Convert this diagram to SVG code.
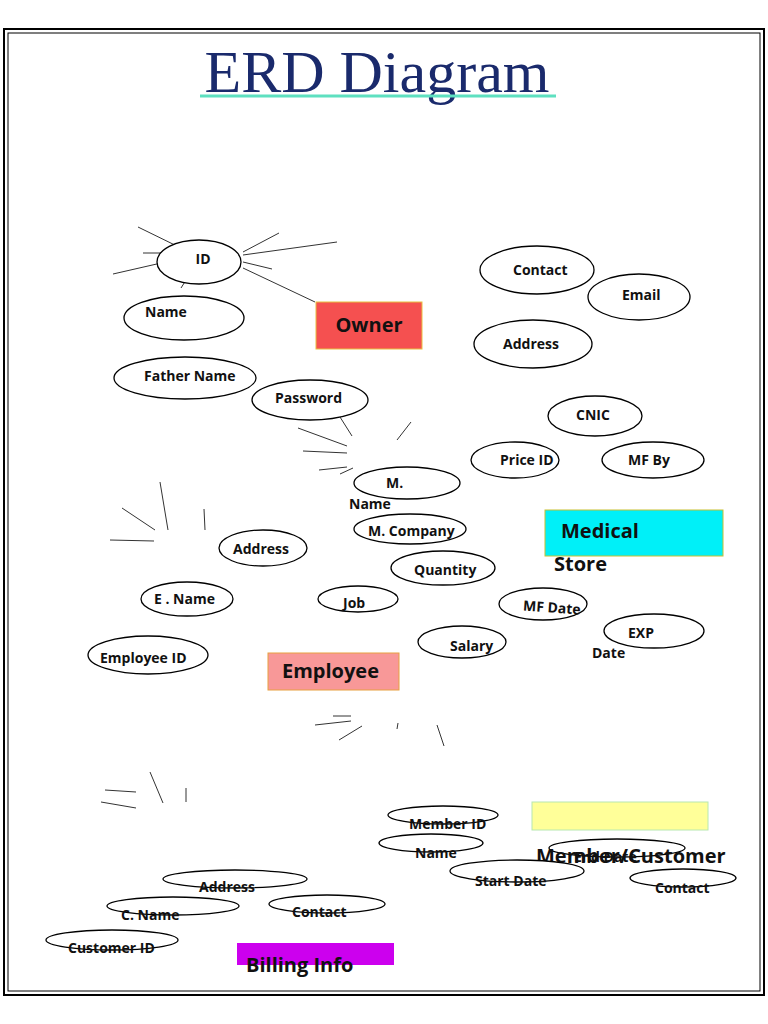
<svg xmlns="http://www.w3.org/2000/svg" width="768" height="1024" viewBox="0 0 768 1024">
<style>
.e{fill:#fff;stroke:#000;stroke-width:1.3}
.t{font-family:"Open Sans","Liberation Sans",sans-serif;font-weight:bold;font-size:14px;fill:#111}
.b{font-family:"Open Sans","Liberation Sans",sans-serif;font-weight:bold;font-size:20px;fill:#111}
.l{stroke:#333;stroke-width:1;fill:none}
</style>
<rect width="768" height="1024" fill="#fff"/>
<rect x="4" y="29" width="760" height="966" fill="none" stroke="#000" stroke-width="2"/>
<rect x="8" y="33" width="752" height="958" fill="none" stroke="#000" stroke-width="1"/>
<text x="377" y="92" text-anchor="middle" font-family="Liberation Serif,serif" font-size="60" fill="#1a2a6c">ERD Diagram</text>
<line x1="200" y1="96" x2="556" y2="96" stroke="#5ee0c0" stroke-width="3"/>
<g id="connectors">
<path class="l" d="M138 227L183 249M143 253L183 253M113 274L183 258M193 269L181 288M243 252L279 233M243 255L337 242M243 262L272 269M243 268L315 302M340 417L352 436M298 428L347 446M303 451L347 453M319 470L347 467M411 422L397 440M353 468L340 474M412 470L407 497M122 508L155 530M160 482L168 530M204 509L205 530M110 540L154 541M333 716L351 716M315 725L351 721M339 740L362 726M398 723L397 729M437 725L444 746M150 772L163 803M186 788L186 802M105 790L136 792M101 802L136 808"/>
</g>
<g id="owner"><rect x="316" y="302" width="106" height="47" fill="#f55050" stroke="#e8c040"/><text class="b" x="369" y="332" text-anchor="middle" font-size="22">Owner</text></g>
<g id="medical"><rect x="545" y="510" width="178" height="46" fill="#00f0f8" stroke="#c8c030"/><text class="b" x="561" y="538" font-size="22">Medical</text><text class="b" x="554" y="571">Store</text></g>
<g id="employee"><rect x="268" y="653" width="131" height="37" fill="#f89898" stroke="#e8a040"/><text class="b" x="282" y="678" font-size="18">Employee</text></g>
<g id="member"><rect x="532" y="802" width="176" height="28" fill="#ffff99" stroke="#b8e8b0"/></g>
<g id="billing"><rect x="237" y="943" width="157" height="22" fill="#cc00ee"/><text class="b" x="246" y="972">Billing Info</text></g>
<g id="a-id"><ellipse class="e" cx="199" cy="262" rx="42" ry="22"/><text class="t" x="203" y="264" text-anchor="middle" font-size="15">ID</text></g>
<g id="a-name"><ellipse class="e" cx="184" cy="318" rx="60" ry="22"/><text class="t" x="145" y="317">Name</text></g>
<g id="a-fname"><ellipse class="e" cx="185" cy="378" rx="71" ry="21"/><text class="t" x="144" y="381">Father Name</text></g>
<g id="a-pw"><ellipse class="e" cx="310" cy="400" rx="58" ry="20"/><text class="t" x="275" y="403">Password</text></g>
<g id="a-contact"><ellipse class="e" cx="537" cy="270" rx="57" ry="24"/><text class="t" x="513" y="275">Contact</text></g>
<g id="a-email"><ellipse class="e" cx="639" cy="297" rx="51" ry="23"/><text class="t" x="622" y="300">Email</text></g>
<g id="a-addr"><ellipse class="e" cx="533" cy="344" rx="59" ry="24"/><text class="t" x="503" y="349" font-size="16">Address</text></g>
<g id="a-cnic"><ellipse class="e" cx="595" cy="416" rx="47" ry="20"/><text class="t" x="576" y="420">CNIC</text></g>
<g id="a-price"><ellipse class="e" cx="515" cy="460" rx="44" ry="18"/><text class="t" x="500" y="465">Price ID</text></g>
<g id="a-mfby"><ellipse class="e" cx="653" cy="460" rx="51" ry="18"/><text class="t" x="628" y="465">MF By</text></g>
<g id="a-mname"><ellipse class="e" cx="407" cy="483" rx="53" ry="16"/><text class="t" x="386" y="488">M.</text><text class="t" x="349" y="509">Name</text></g>
<g id="a-mcomp"><ellipse class="e" cx="410" cy="529" rx="56" ry="15"/><text class="t" x="368" y="536">M. Company</text></g>
<g id="a-qty"><ellipse class="e" cx="443" cy="568" rx="52" ry="17"/><text class="t" x="414" y="575">Quantity</text></g>
<g id="a-eaddr"><ellipse class="e" cx="263" cy="548" rx="44" ry="18"/><text class="t" x="233" y="554">Address</text></g>
<g id="a-ename"><ellipse class="e" cx="187" cy="599" rx="46" ry="17"/><text class="t" x="154" y="604">E . Name</text></g>
<g id="a-job"><ellipse class="e" cx="358" cy="599" rx="40" ry="13"/><text class="t" x="343" y="608">Job</text></g>
<g id="a-mfdate"><ellipse class="e" cx="543" cy="604" rx="44" ry="16"/><text class="t" x="523" y="612" transform="rotate(4 543 608)">MF Date</text></g>
<g id="a-exp"><ellipse class="e" cx="654" cy="631" rx="50" ry="17"/><text class="t" x="628" y="638">EXP</text><text class="t" x="592" y="658">Date</text></g>
<g id="a-salary"><ellipse class="e" cx="462" cy="642" rx="44" ry="16"/><text class="t" x="450" y="651">Salary</text></g>
<g id="a-empid"><ellipse class="e" cx="148" cy="655" rx="60" ry="19"/><text class="t" x="100" y="663">Employee ID</text></g>
<g id="a-memid"><ellipse class="e" cx="443" cy="815" rx="55" ry="9"/><text class="t" x="409" y="829">Member ID</text></g>
<g id="a-mname2"><ellipse class="e" cx="431" cy="843" rx="52" ry="9"/><text class="t" x="415" y="858">Name</text></g>
<g id="a-end"><ellipse class="e" cx="617" cy="848" rx="68" ry="9"/><text class="t" x="574" y="862">End Date</text></g>
<text class="b" x="536" y="863">Member/Customer</text>
<g id="a-start"><ellipse class="e" cx="517" cy="871" rx="67" ry="11"/><text class="t" x="475" y="886" font-size="15">Start Date</text></g>
<g id="a-mcont"><ellipse class="e" cx="683" cy="878" rx="53" ry="9"/><text class="t" x="655" y="893" font-size="15">Contact</text></g>
<g id="a-caddr"><ellipse class="e" cx="235" cy="879" rx="72" ry="9"/><text class="t" x="199" y="892">Address</text></g>
<g id="a-cname"><ellipse class="e" cx="173" cy="906" rx="66" ry="9"/><text class="t" x="121" y="920">C. Name</text></g>
<g id="a-ccont"><ellipse class="e" cx="327" cy="904" rx="58" ry="9"/><text class="t" x="292" y="917">Contact</text></g>
<g id="a-cid"><ellipse class="e" cx="112" cy="940" rx="66" ry="10"/><text class="t" x="68" y="953">Customer ID</text></g>
</svg>
